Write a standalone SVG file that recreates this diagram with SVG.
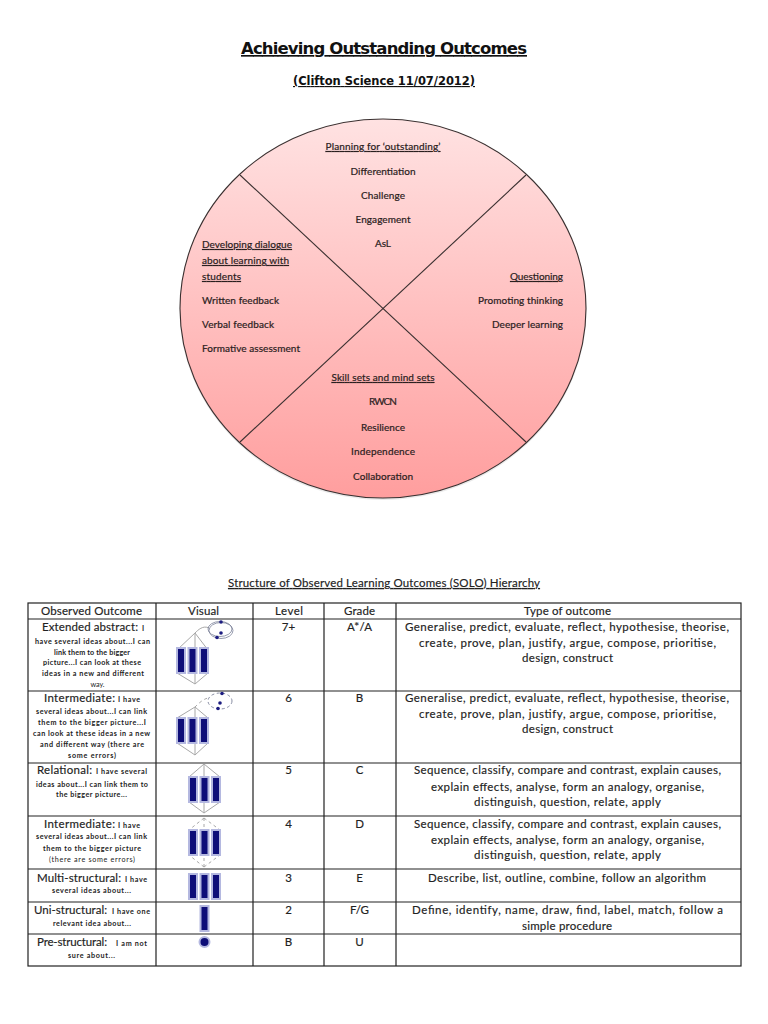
<svg xmlns="http://www.w3.org/2000/svg" width="768" height="1024" viewBox="0 0 768 1024">
<style>
text{font-family:Lato,"Open Sans","Liberation Sans",sans-serif;fill:#222}
.m{text-anchor:middle}
.c{font-size:10px;fill:#2a2020;stroke:#2a2020;stroke-width:.2}
.u{text-decoration:underline}
.t{font-size:11.5px;stroke:#222;stroke-width:.15}
.s{font-size:7.2px;font-weight:700}
.sm{font-size:7.2px;font-weight:700;text-anchor:middle}
.title{font-family:"DejaVu Sans",sans-serif;font-weight:700;text-anchor:middle;fill:#111;text-decoration:underline}
.div{stroke:#3a3030;stroke-width:1.1}
.grid{stroke:#222;stroke-width:1.2;fill:none}
.wire{stroke:#a8a8a8;stroke-width:1;fill:none}
.dash{stroke:#a8a8a8;stroke-width:1;fill:none;stroke-dasharray:3 3}
.bar{fill:#0e0e78;stroke:#b4b8e0;stroke-width:2}
.orb{stroke:#7a8098;stroke-width:.8;fill:none}
.orbd{stroke:#7a8098;stroke-width:.9;fill:none;stroke-dasharray:3 2.5}
.dot{fill:#1c1c80}
</style>
<defs>
<linearGradient id="pink" x1="0" y1="0" x2="0" y2="1"><stop offset="0" stop-color="#ffe2e2"/><stop offset="1" stop-color="#ff9e9e"/></linearGradient>
<g id="bars"><rect class="bar" x="0" y="0" width="8" height="25"/><rect class="bar" x="11.5" y="0" width="8" height="25"/><rect class="bar" x="23" y="0" width="8" height="25"/></g>
</defs>
<g id="title">
<text class="title" x="384" y="54" font-size="16.5" textLength="286" lengthAdjust="spacing">Achieving Outstanding Outcomes</text>
<text class="title" x="384" y="85" font-size="11.5" textLength="182" lengthAdjust="spacing">(Clifton Science 11/07/2012)</text>
</g>
<g id="wheel">
<ellipse cx="383" cy="310" rx="203.500" ry="190" fill="#d8d8d8" opacity=".55"/>
<ellipse cx="383" cy="308.5" rx="203" ry="189.5" fill="url(#pink)" stroke="#3a3030" stroke-width="1.1"/>
<line class="div" x1="240" y1="175" x2="526" y2="442"/>
<line class="div" x1="526" y1="175" x2="240" y2="442"/>
</g>
<g id="planning">
<text class="c m u" x="383" y="150" textLength="115">Planning for ‘outstanding’</text>
<text class="c m" x="383" y="175" textLength="65">Differentiation</text>
<text class="c m" x="383" y="199" textLength="44">Challenge</text>
<text class="c m" x="383" y="223" textLength="55">Engagement</text>
<text class="c m" x="383" y="247" textLength="16">AsL</text>
</g>
<g id="dialogue">
<text class="c u" x="202" y="248" textLength="90">Developing dialogue</text>
<text class="c u" x="202" y="264" textLength="87">about learning with</text>
<text class="c u" x="202" y="280" textLength="39">students</text>
<text class="c" x="202" y="304" textLength="77">Written feedback</text>
<text class="c" x="202" y="328" textLength="72">Verbal feedback</text>
<text class="c" x="202" y="352" textLength="98">Formative assessment</text>
</g>
<g id="questioning">
<text class="c u" x="510" y="280" textLength="53">Questioning</text>
<text class="c" x="478" y="304" textLength="85">Promoting thinking</text>
<text class="c" x="492" y="328" textLength="71">Deeper learning</text>
</g>
<g id="skills">
<text class="c m u" x="383" y="381" textLength="103">Skill sets and mind sets</text>
<text class="c m" x="383" y="405" textLength="28">RWCN</text>
<text class="c m" x="383" y="431" textLength="44">Resilience</text>
<text class="c m" x="383" y="455" textLength="64">Independence</text>
<text class="c m" x="383" y="480" textLength="60">Collaboration</text>
</g>
<text class="t m u" x="384" y="587" textLength="312">Structure of Observed Learning Outcomes (SOLO) Hierarchy</text>
<g id="table-grid">
<rect class="grid" x="28" y="603" width="713" height="363"/>
<path class="grid" d="M28 619H741M28 691H741M28 763H741M28 816H741M28 869H741M28 902H741M28 934H741M156 603V966M253 603V966M324 603V966M396 603V966"/>
</g>
<g id="table-header">
<text class="t m" x="91.5" y="615" textLength="101">Observed Outcome</text>
<text class="t m" x="203.5" y="615" textLength="31">Visual</text>
<text class="t m" x="289" y="615" textLength="28">Level</text>
<text class="t m" x="359.5" y="615" textLength="31">Grade</text>
<text class="t m" x="567.5" y="615" textLength="87">Type of outcome</text>
</g>
<g id="row-extended">
<text class="t" x="42" y="631" textLength="96">Extended abstract:</text><text class="s" x="142" y="631">I</text>
<text class="sm" x="92.5" y="643.5" textLength="115">have several ideas about...I can</text>
<text class="sm" x="92" y="654.5" textLength="76">link them to the bigger</text>
<text class="sm" x="92" y="665" textLength="98">picture...I can look at these</text>
<text class="sm" x="93" y="676" textLength="102">ideas in a new and different</text>
<text class="sm" x="97.5" y="687" textLength="14" style="font-weight:400">way.</text>
<text class="t m" x="288.5" y="631">7+</text><text class="t m" x="359.5" y="631" textLength="25">A*/A</text>
<text class="t m" x="567" y="631" textLength="324">Generalise, predict, evaluate, reflect, hypothesise, theorise,</text>
<text class="t m" x="567.5" y="647" textLength="297">create, prove, plan, justify, argue, compose, prioritise,</text>
<text class="t m" x="567.5" y="662" textLength="91">design, construct</text>
<path class="wire" d="M195 633L177 650M195 633L195 648M195 633L208 650M195 684L177 673M195 684L195 673M195 684L208 673M195 633C198 630 203 625 209 628"/>
<use href="#bars" x="177" y="648"/>
<ellipse class="orb" cx="220" cy="629" rx="12" ry="7.5"/><ellipse class="orb" cx="221" cy="630.5" rx="12" ry="8"/>
<circle class="dot" cx="221" cy="622" r="1.8"/><circle class="dot" cx="221" cy="633" r="1.8"/><circle class="dot" cx="217" cy="637.5" r="1.8"/>
</g>
<g id="row-intermediate-6">
<text class="t" x="44" y="702" textLength="71">Intermediate:</text><text class="s" x="118" y="702" textLength="22">I have</text>
<text class="sm" x="91.5" y="714" textLength="111">several ideas about...I can link</text>
<text class="sm" x="92" y="725" textLength="108">them to the bigger picture...I</text>
<text class="sm" x="91.5" y="736" textLength="117">can look at these ideas in a new</text>
<text class="sm" x="92" y="747" textLength="104">and different way (there are</text>
<text class="sm" x="92" y="758" textLength="48">some errors)</text>
<text class="t m" x="288.5" y="702">6</text><text class="t m" x="359.5" y="702">B</text>
<text class="t m" x="567" y="702" textLength="324">Generalise, predict, evaluate, reflect, hypothesise, theorise,</text>
<text class="t m" x="567.5" y="718" textLength="297">create, prove, plan, justify, argue, compose, prioritise,</text>
<text class="t m" x="567.5" y="733" textLength="91">design, construct</text>
<path class="wire" d="M195 707L177 718M195 707L195 718M195 707L208 718M195 755L177 743M195 755L195 743M195 755L208 743"/>
<path class="dash" d="M195 707C198 704 203 699 208 698"/>
<use href="#bars" x="177" y="718"/>
<ellipse class="orbd" cx="220" cy="701" rx="12" ry="8"/>
<circle class="dot" cx="222" cy="693.5" r="1.8"/><circle class="dot" cx="220" cy="703" r="1.8"/><circle class="dot" cx="218" cy="708.5" r="1.8"/>
</g>
<g id="row-relational">
<text class="t" x="37" y="774" textLength="55">Relational:</text><text class="s" x="96" y="774" textLength="51">I have several</text>
<text class="sm" x="92" y="787" textLength="112">ideas about...I can link them to</text>
<text class="sm" x="91.5" y="797" textLength="71">the bigger picture...</text>
<text class="t m" x="288.5" y="774">5</text><text class="t m" x="359.5" y="774">C</text>
<text class="t m" x="567.5" y="774" textLength="307">Sequence, classify, compare and contrast, explain causes,</text>
<text class="t m" x="567.5" y="790.5" textLength="273">explain effects, analyse, form an analogy, organise,</text>
<text class="t m" x="567.5" y="806" textLength="187">distinguish, question, relate, apply</text>
<path class="wire" d="M204 764L189 777M204 764L204 777M204 764L220 777M204 813L189 802M204 813L204 802M204 813L220 802"/>
<use href="#bars" x="189" y="777"/>
</g>
<g id="row-intermediate-4">
<text class="t" x="44" y="828" textLength="71">Intermediate:</text><text class="s" x="118" y="828" textLength="22">I have</text>
<text class="sm" x="91.5" y="839" textLength="111">several ideas about...I can link</text>
<text class="sm" x="92" y="851" textLength="98">them to the bigger picture</text>
<text class="sm" x="92" y="862" textLength="86" style="font-weight:400">(there are some errors)</text>
<text class="t m" x="288.5" y="828">4</text><text class="t m" x="359.5" y="828">D</text>
<text class="t m" x="567.5" y="828" textLength="307">Sequence, classify, compare and contrast, explain causes,</text>
<text class="t m" x="567.5" y="843.5" textLength="273">explain effects, analyse, form an analogy, organise,</text>
<text class="t m" x="567.5" y="859" textLength="187">distinguish, question, relate, apply</text>
<path class="dash" d="M204 818L189 830M204 818L204 830M204 818L220 830M204 867L189 855M204 867L204 855M204 867L220 855"/>
<use href="#bars" x="189" y="830"/>
</g>
<g id="row-multi">
<text class="t" x="37" y="882" textLength="84">Multi-structural:</text><text class="s" x="125" y="882" textLength="22">I have</text>
<text class="sm" x="91.5" y="893" textLength="79">several ideas about...</text>
<text class="t m" x="288.5" y="882">3</text><text class="t m" x="359.5" y="882">E</text>
<text class="t m" x="567" y="882" textLength="278">Describe, list, outline, combine, follow an algorithm</text>
<use href="#bars" x="189" y="874"/>
</g>
<g id="row-uni">
<text class="t" x="34" y="914" textLength="73">Uni-structural:</text><text class="s" x="112" y="914" textLength="38">I have one</text>
<text class="sm" x="92" y="926" textLength="78">relevant idea about...</text>
<text class="t m" x="288.5" y="914">2</text><text class="t m" x="359.5" y="914" textLength="19">F/G</text>
<text class="t m" x="567.5" y="914" textLength="311">Define, identify, name, draw, find, label, match, follow a</text>
<text class="t m" x="567" y="930" textLength="90">simple procedure</text>
<rect class="bar" x="200.500" y="906" width="8" height="25"/>
</g>
<g id="row-pre">
<text class="t" x="37" y="946" textLength="70">Pre-structural:</text><text class="s" x="116" y="946" textLength="31">I am not</text>
<text class="sm" x="91.5" y="958" textLength="47">sure about...</text>
<text class="t m" x="288.5" y="946">B</text><text class="t m" x="359.5" y="946">U</text>
<circle class="bar" cx="204.500" cy="942" r="5"/>
</g>
</svg>
